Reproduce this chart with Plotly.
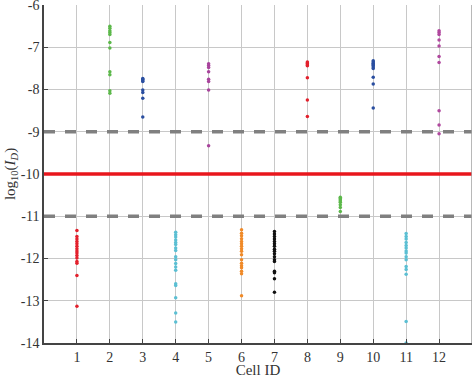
import plotly.graph_objects as go

cell_ids = [1, 2, 3, 4, 5, 6, 7, 8, 9, 10, 11, 12]
cell_colors = ["#e3202c", "#5cb84a", "#2a4ea0", "#5bbfd3", "#a8449c", "#f08a28",
               "#111111", "#e3202c", "#5cb84a", "#2a4ea0", "#5bbfd3", "#b0479e"]

cell1 = [-11.34, -11.48, -11.54, -11.60, -11.65, -11.71, -11.77, -11.82, -11.87, -11.93,
         -11.99, -12.07, -12.11, -12.40, -13.13]
cell2 = [-6.50, -6.55, -6.61, -6.65, -6.70, -6.89, -7.02, -7.58, -7.65, -8.03, -8.09]
cell3 = [-7.74, -7.76, -7.79, -7.81, -8.01, -8.07, -8.21, -8.65]
cell4 = [-11.38, -11.44, -11.49, -11.56, -11.62, -11.67, -11.75, -11.81, -11.96, -12.03,
         -12.12, -12.20, -12.28, -12.60, -12.64, -12.93, -13.29, -13.50]
cell5 = [-7.39, -7.43, -7.48, -7.58, -7.76, -7.81, -8.01, -9.33]
cell6 = [-11.32, -11.40, -11.46, -11.53, -11.60, -11.65, -11.71, -11.77, -11.83, -11.91,
         -12.03, -12.11, -12.17, -12.22, -12.30, -12.36, -12.88]
cell7 = [-11.36, -11.42, -11.48, -11.54, -11.60, -11.65, -11.71, -11.78, -11.83, -11.89,
         -11.96, -12.03, -12.07, -12.30, -12.34, -12.48, -12.80]
cell8 = [-7.35, -7.37, -7.39, -7.42, -7.44, -7.72, -8.25, -8.64]
cell9 = [-10.55, -10.58, -10.61, -10.64, -10.67, -10.73, -10.79, -10.89]
cell10 = [-7.32, -7.35, -7.38, -7.41, -7.43, -7.47, -7.50, -7.71, -7.87, -8.44]
cell11 = [-11.41, -11.48, -11.54, -11.62, -11.69, -11.75, -11.82, -11.87, -11.96, -12.03,
          -12.19, -12.26, -12.37, -13.49, -14.0]
cell12 = [-6.61, -6.65, -6.70, -6.83, -6.97, -7.22, -7.36, -8.50, -8.84, -9.05]
all_cells = [cell1, cell2, cell3, cell4, cell5, cell6, cell7, cell8, cell9, cell10, cell11, cell12]

threshold = -10
bounds = [-9, -11]

y_tickvals = [-6, -7, -8, -9, -10, -11, -12, -13, -14]
y_ticktext = ["-6", "-7", "-8", "-9", "-10", "-11", "-12", "-13", "-14"]
x_tickvals = cell_ids
x_ticktext = [str(c) for c in cell_ids]

fig = go.Figure()
for cid, vals, col in zip(cell_ids, all_cells, cell_colors):
    fig.add_trace(go.Scatter(x=[cid] * len(vals), y=vals, mode="markers",
                             marker=dict(color=col, size=3.5, line=dict(width=0)),
                             showlegend=False, cliponaxis=False))

fig.add_hline(y=threshold, line=dict(color="#e8161c", width=3.5), layer="above")
for b in bounds:
    fig.add_hline(y=b, line=dict(color="#808080", width=3.5, dash="11px,10px"), layer="above")
fig.add_vline(x=13, line=dict(color="#a0a0a0", width=1.5))

font = "Liberation Serif, DejaVu Serif, serif"
fig.update_layout(
    width=474, height=378,
    margin=dict(l=44, r=2, t=5, b=35),
    paper_bgcolor="white", plot_bgcolor="white",
    font=dict(family=font, size=14, color="#333333"),
    xaxis=dict(range=[0, 13], tickvals=x_tickvals, ticktext=x_ticktext, automargin=False,
               showgrid=True, gridcolor="#c8c8c8", gridwidth=1,
               showline=True, linecolor="#444444", linewidth=1.5,
               ticks="inside", ticklen=4, tickcolor="#444444", zeroline=False,
               title=dict(text="Cell ID", font=dict(size=15), standoff=5)),
    yaxis=dict(range=[-14, -6], tickvals=y_tickvals, ticktext=y_ticktext, automargin=False,
               ticklabeloverflow="allow",
               showgrid=True, gridcolor="#c8c8c8", gridwidth=1,
               showline=True, linecolor="#444444", linewidth=1.5,
               ticks="inside", ticklen=4, tickcolor="#444444", zeroline=False,
               title=dict(text="log<sub>10</sub>(<i>I<sub>D</sub></i>)", font=dict(size=15), standoff=2)),
)

fig.write_html("out.html", config={"displayModeBar": False},
               post_script="document.body.style.margin='0';document.body.style.padding='0';")
